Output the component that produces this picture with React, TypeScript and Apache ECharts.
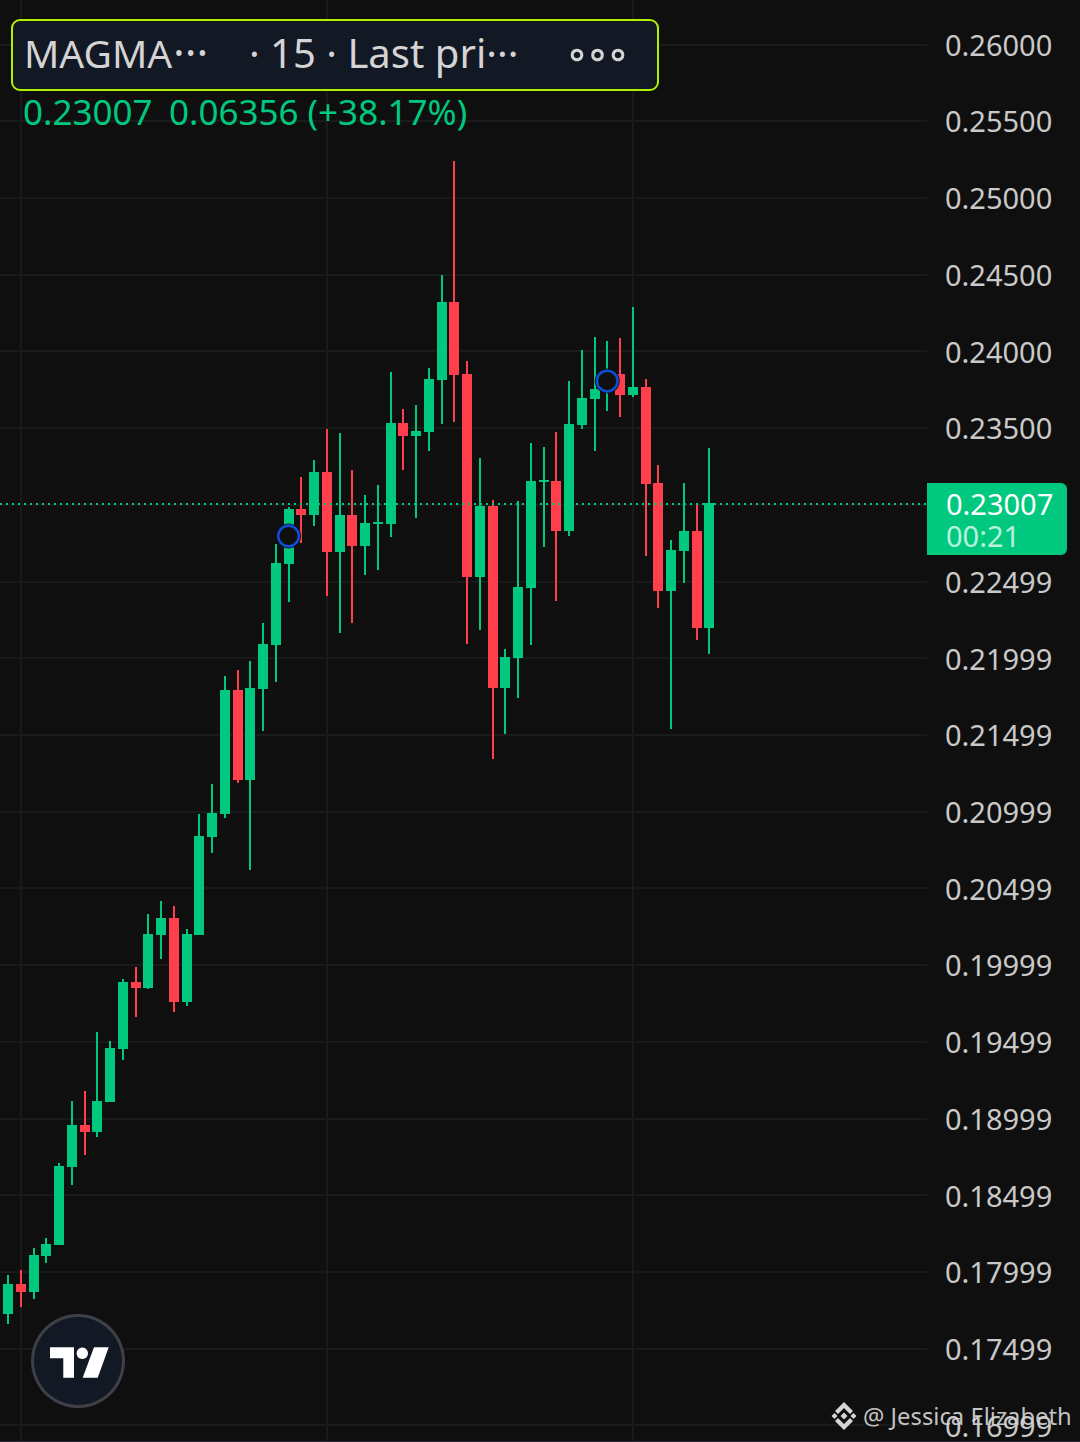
import React, { useEffect, useRef } from "react";
import * as echarts from "echarts";

const tickLabels = ["0.26000","0.25500","0.25000","0.24500","0.24000","0.23500","0.23000","0.22499","0.21999","0.21499","0.20999","0.20499","0.19999","0.19499","0.18999","0.18499","0.17999","0.17499","0.16999"];
const hiddenLabel = "0.23000";
const gridCandles = [1, 25, 49];

const opens = [0.17723,0.17919,0.17867,0.18102,0.18173,0.18682,0.18955,0.18910,0.19105,0.19451,0.19888,0.19848,0.20194,0.20305,0.19757,0.20194,0.20833,0.20983,0.21791,0.21204,0.21797,0.22084,0.22612,0.22971,0.22932,0.23212,0.22691,0.22932,0.22730,0.22873,0.22873,0.23531,0.23447,0.23473,0.23812,0.24320,0.23851,0.22528,0.22990,0.21804,0.21999,0.22456,0.23147,0.23153,0.22827,0.23518,0.23688,0.23759,0.23851,0.23714,0.23766,0.23140,0.22436,0.22697,0.22827,0.22195];
const closes = [0.17919,0.17867,0.18108,0.18180,0.18688,0.18955,0.18910,0.19112,0.19457,0.19888,0.19848,0.20200,0.20305,0.19757,0.20200,0.20839,0.20989,0.21791,0.21204,0.21804,0.22091,0.22619,0.22971,0.22932,0.23212,0.22691,0.22932,0.22730,0.22880,0.22886,0.23531,0.23447,0.23479,0.23818,0.24320,0.23844,0.22528,0.22990,0.21804,0.22006,0.22462,0.23153,0.23160,0.22827,0.23525,0.23694,0.23753,0.23838,0.23714,0.23766,0.23134,0.22436,0.22704,0.22827,0.22195,0.23007];
const lows = [0.17658,0.17769,0.17821,0.18056,0.18173,0.18564,0.18760,0.18877,0.19105,0.19379,0.19659,0.19842,0.20038,0.19692,0.19731,0.20194,0.20728,0.20957,0.21185,0.20618,0.21524,0.21843,0.22365,0.22749,0.22860,0.22404,0.22163,0.22228,0.22541,0.22573,0.22788,0.23225,0.22912,0.23349,0.23525,0.23538,0.22091,0.22182,0.21341,0.21504,0.21739,0.22084,0.22723,0.22371,0.22795,0.23492,0.23349,0.23610,0.23570,0.23701,0.22664,0.22325,0.21537,0.22488,0.22117,0.22026];
const highs = [0.17978,0.18010,0.18154,0.18219,0.18708,0.19112,0.19177,0.19562,0.19503,0.19907,0.19985,0.20331,0.20416,0.20383,0.20233,0.20983,0.21178,0.21882,0.21921,0.21980,0.22228,0.22743,0.22984,0.23179,0.23290,0.23492,0.23466,0.23225,0.23062,0.23127,0.23864,0.23623,0.23649,0.23890,0.24496,0.25239,0.23936,0.23303,0.23029,0.22058,0.23023,0.23401,0.23375,0.23473,0.23805,0.24007,0.24092,0.24066,0.24085,0.24288,0.23818,0.23258,0.22769,0.23140,0.22997,0.23368];

const lastPrice = 0.23007;
const markerCandles = [22, 47];
const markerPrices = [0.22795, 0.23805];

const BG = "#0F0F0F";
const GREEN = "#00C97F";
const RED = "#FF3F4C";
const GRID = "#1A1A1A";
const TEXT = "#C9C9C9";
const FONT = "'Noto Sans', sans-serif";

function txt(x: number, y: number, text: string, fontSize: number, fill: string, opacity = 1) {
  return {
    type: "text", x, y, z: 100,
    style: { text, fontSize, fontFamily: FONT, fill, opacity, textAlign: "left", textVerticalAlign: "middle" },
  };
}
function poly(points: number[][], fill: string) {
  return { type: "polygon", z: 101, shape: { points }, style: { fill } };
}
function renderCandle(params: any, api: any) {
  const i = api.value(0);
  const o = api.value(1);
  const c = api.value(2);
  const cx = Math.round(api.coord([i, o])[0]);
  const yo = Math.round(api.coord([i, o])[1]);
  const yc = Math.round(api.coord([i, c])[1]);
  const yl = Math.round(api.coord([i, api.value(3)])[1]);
  const yh = Math.round(api.coord([i, api.value(4)])[1]);
  const fill = c >= o ? GREEN : RED;
  const top = Math.min(yo, yc);
  const h = Math.max(Math.abs(yo - yc), 2);
  return {
    type: "group",
    children: [
      { type: "rect", shape: { x: cx - 1, y: yh, width: 2, height: yl - yh }, style: { fill } },
      { type: "rect", shape: { x: cx - 5, y: top, width: 10, height: h }, style: { fill } },
    ],
  };
}

export default function App() {
  const ref = useRef<HTMLDivElement>(null);
  useEffect(() => {
    document.body.style.margin = "0";
    document.body.style.background = BG;
    const chart = echarts.init(ref.current!, undefined, { renderer: "svg" });
    const candles = opens.map((o, i) => [i, o, closes[i], lows[i], highs[i]]);
    const markers = markerCandles.map((c, i) => [c, markerPrices[i]]);
    const wm = "#D6D6D6";
    const dot = (cx: number) => ({
      type: "circle", z: 100, shape: { cx, cy: 55, r: 4.8 },
      style: { fill: "none", stroke: "#D4D4D4", lineWidth: 3 },
    });
    chart.setOption({
      animation: false,
      backgroundColor: BG,
      grid: { left: 0, top: 0, width: 927, height: 1442, containLabel: false },
      xAxis: {
        type: "value", min: -0.62902, max: 72.0769,
        axisLine: { show: false },
        axisLabel: { show: false },
        axisTick: { show: false, customValues: gridCandles },
        splitLine: { show: true, lineStyle: { color: GRID, width: 2 } },
      },
      yAxis: {
        type: "value", position: "right", min: 0.168891, max: 0.262887,
        axisLine: { show: false },
        axisTick: { show: false, customValues: tickLabels.map(Number) },
        axisLabel: {
          show: true, inside: false, margin: 18, align: "left",
          color: TEXT, fontSize: 29, fontFamily: FONT,
          customValues: tickLabels.filter((l) => l !== hiddenLabel).map(Number),
          formatter: (v: number) => v.toFixed(5),
        },
        splitLine: { show: true, lineStyle: { color: GRID, width: 2 } },
      },
      series: [
        {
          type: "custom",
          data: candles,
          encode: { x: 0, y: [1, 2, 3, 4] },
          renderItem: renderCandle,
          clip: true,
          silent: true,
          markLine: {
            silent: true, symbol: "none", animation: false, precision: 5,
            label: { show: false },
            lineStyle: { color: GREEN, width: 2, type: [2, 4], opacity: 1 },
            data: [{ yAxis: lastPrice }],
            z: 5,
          },
        },
        {
          type: "scatter", data: markers, symbol: "circle", symbolSize: 25, z: 6,
          itemStyle: { color: BG, opacity: 1 },
          silent: true,
        },
        {
          type: "scatter", data: markers, symbol: "circle", symbolSize: 20.5, z: 7,
          itemStyle: { color: BG, borderColor: "#0B50DC", borderWidth: 2.5, opacity: 1 },
          silent: true,
        },
      ],
      graphic: [
        { type: "rect", z: 99, shape: { x: 12, y: 20, width: 646, height: 70, r: 8 }, style: { fill: "#131825", stroke: "#B2F000", lineWidth: 2 } },
        txt(24, 52, "MAGMA", 39, "#D4D4D4"),
        txt(173, 52, "···", 44, "#D4D4D4"),
        txt(249, 52, "· 15 · Last pri···", 40, "#D4D4D4"),
        dot(577), dot(597.5), dot(618),
        txt(23, 111, "0.23007", 35, GREEN),
        txt(169, 111, "0.06356 (+38.17%)", 35, GREEN),

        { type: "rect", z: 99, shape: { x: 927, y: 483, width: 140, height: 72, r: [0, 6, 6, 0] }, style: { fill: GREEN } },
        txt(946, 503.5, "0.23007", 29, "#FFFFFF"),
        txt(946, 535.5, "00:21", 29, "#B8F1DC"),

        { type: "circle", z: 99, shape: { cx: 78, cy: 1361, r: 45.5 }, style: { fill: "#131825", stroke: "#3E4048", lineWidth: 3 } },
        poly([[50, 1347.3], [74, 1347.3], [74, 1377.7], [63.3, 1377.7], [63.3, 1358.3], [50, 1358.3]], "#FFFFFF"),
        { type: "circle", z: 101, shape: { cx: 82.3, cy: 1353.3, r: 5.7 }, style: { fill: "#FFFFFF" } },
        poly([[94, 1347.3], [108.7, 1347.3], [97.7, 1377.7], [82.7, 1377.7]], "#FFFFFF"),

        poly([[844, 1402], [853, 1411], [850, 1414], [844, 1408], [838, 1414], [835, 1411]], wm),
        poly([[844, 1430], [853, 1421], [850, 1418], [844, 1424], [838, 1418], [835, 1421]], wm),
        poly([[844, 1412.5], [847.5, 1416], [844, 1419.5], [840.5, 1416]], wm),
        poly([[834.5, 1413], [837.5, 1416], [834.5, 1419], [831.5, 1416]], wm),
        poly([[853.5, 1413], [856.5, 1416], [853.5, 1419], [850.5, 1416]], wm),
        txt(863, 1416, "@ Jessica Elizabeth", 23.8, wm, 0.92),
        { type: "rect", z: 102, shape: { x: 0, y: 1441, width: 1080, height: 1 }, style: { fill: "#2B2B33" } },
      ],
    });
    return () => chart.dispose();
  }, []);
  return <div ref={ref} style={{ position: "absolute", left: 0, top: 0, width: 1080, height: 1442 }} />;
}
